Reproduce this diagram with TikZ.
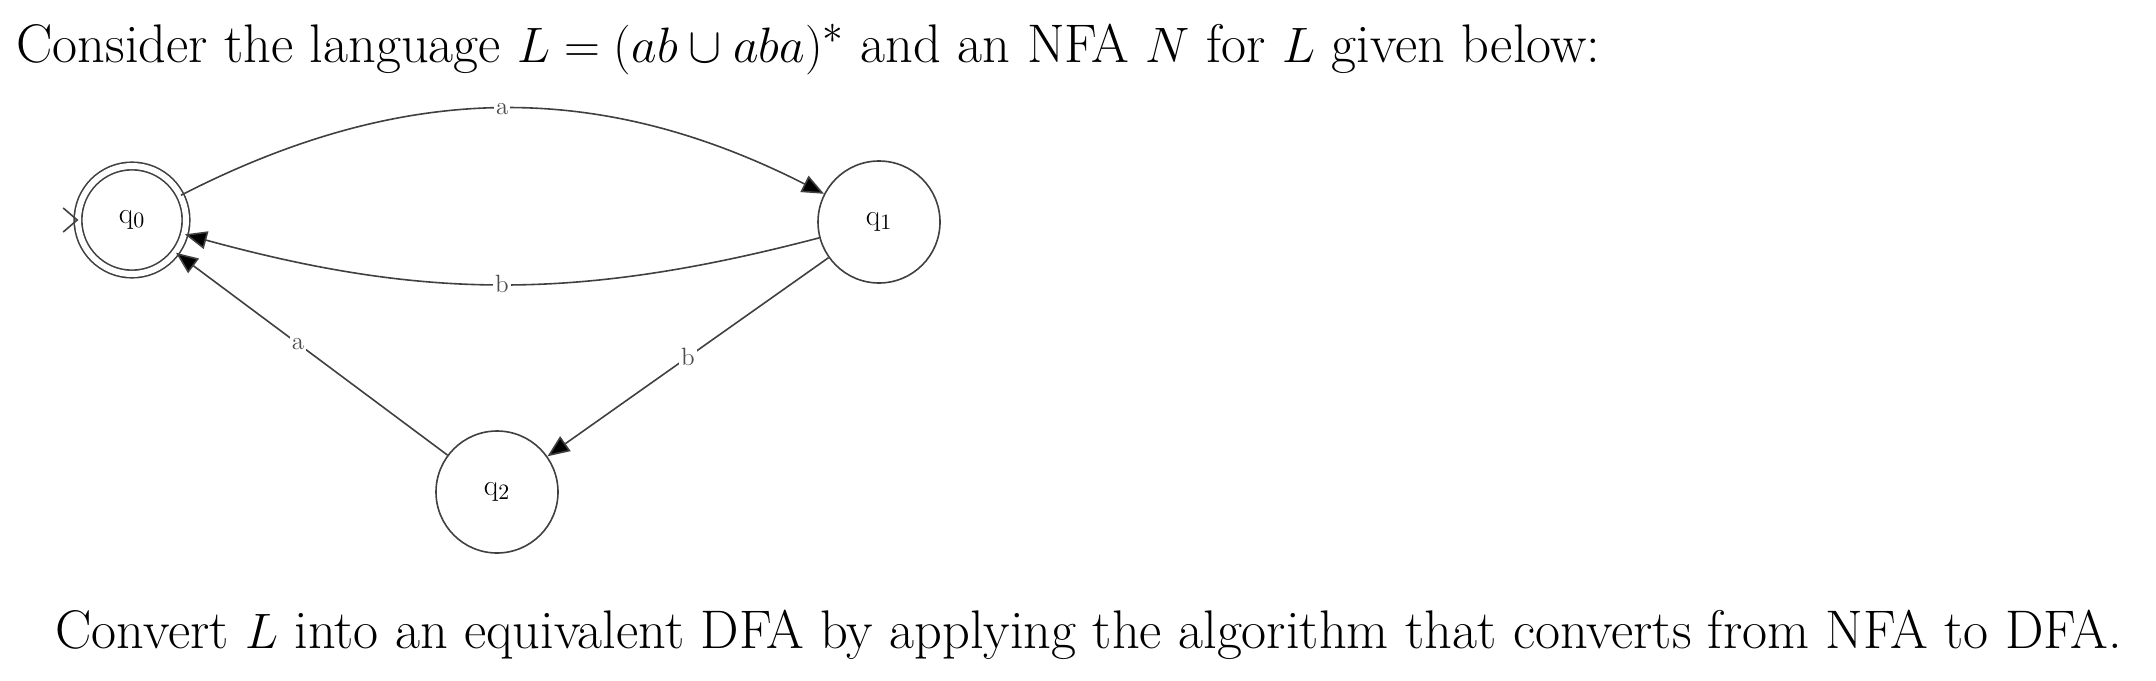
\documentclass[tikz,border=0pt]{standalone}
\usetikzlibrary{arrows.meta,calc}
\begin{document}
\begin{tikzpicture}[x=0.5pt,y=-0.5pt,
  st/.style={circle,draw=black!75,line width=0.8pt,minimum size=61pt,inner sep=0pt,font=\fontsize{15}{15}\selectfont},
  acc/.style={st,double,double distance=3pt,minimum size=54pt},
  ed/.style={draw=black!75,line width=0.8pt,-{Triangle[length=11pt,width=9pt,fill=black]}},
  lb/.style={fill=white,inner sep=1pt,text=black!70,font=\fontsize{12.5}{12.5}\selectfont},
  txt/.style={anchor=base west,inner sep=0pt,font=\fontsize{27.2}{30}\selectfont}]
\useasboundingbox (0,0) rectangle (2156,680);
\node[txt] (t1) at (16,62) {Consider the language $L = (ab \cup aba)^{*}$ and an NFA $N$ for $L$ given below:};
\node[txt] (t2) at (55,648) {Convert $L$ into an equivalent DFA by applying the algorithm that converts from NFA to DFA.};
\node[acc] (q0) at (132,220) {q$_0$};
\node[st] (q1) at (879,222) {q$_1$};
\node[st] (q2) at (497,492) {q$_2$};
\draw[black!75,line width=0.8pt] ($(q0.west)+(-14,-12)$) -- (q0.west) -- ($(q0.west)+(-14,12)$);
\draw[ed] (q0) to[bend left=27] node[lb,pos=0.5] {a} (q1);
\draw[ed] (q1) to[bend left=15] node[lb,pos=0.5] {b} (q0);
\draw[ed] (q2) -- node[lb,pos=0.55] {a} (q0);
\draw[ed] (q1) -- node[lb,pos=0.5] {b} (q2);
\end{tikzpicture}
\end{document}
